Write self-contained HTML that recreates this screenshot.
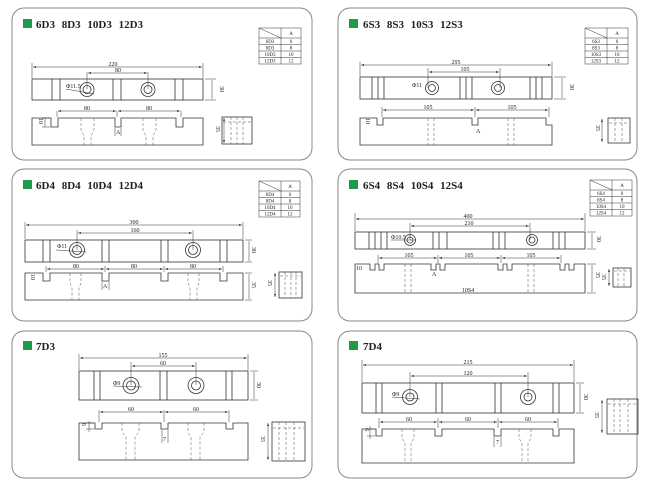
<!DOCTYPE html>
<html><head><meta charset="utf-8"><style>
html,body{margin:0;padding:0;background:#fff}
svg{display:block}
text{font-family:"Liberation Serif",serif;fill:#222}
.t{font-size:11px;font-weight:bold;word-spacing:4px}
.s{font-size:6px}
.tb{font-size:5px}
.p{fill:none;stroke:#888;stroke-width:1}
.l{fill:none;stroke:#333;stroke-width:0.8}
.d{fill:none;stroke:#333;stroke-width:0.5}
.ds{fill:none;stroke:#555;stroke-width:0.5;stroke-dasharray:3 2}
</style></head><body>
<svg width="650" height="490" viewBox="0 0 650 490" xmlns="http://www.w3.org/2000/svg">
<defs>
<marker id="a" markerWidth="6" markerHeight="4" refX="6" refY="2" orient="auto-start-reverse"><path d="M0,0L6,2L0,4z" fill="#333"/></marker>
</defs>

<rect class="p" x="12" y="8" width="300" height="152" rx="12"/>
<rect class="p" x="338" y="8" width="299" height="152" rx="12"/>
<rect class="p" x="12" y="169" width="300" height="152" rx="12"/>
<rect class="p" x="338" y="169" width="299" height="152" rx="12"/>
<rect class="p" x="12" y="331" width="300" height="147" rx="12"/>
<rect class="p" x="338" y="331" width="299" height="147" rx="12"/>

<rect x="23" y="19" width="9" height="9" fill="#1f9a4a"/><text class="t" x="36" y="28">6D3 8D3 10D3 12D3</text>
<rect x="349" y="19" width="9" height="9" fill="#1f9a4a"/><text class="t" x="363" y="28">6S3 8S3 10S3 12S3</text>
<rect x="23" y="180" width="9" height="9" fill="#1f9a4a"/><text class="t" x="36" y="189">6D4 8D4 10D4 12D4</text>
<rect x="349" y="180" width="9" height="9" fill="#1f9a4a"/><text class="t" x="363" y="189">6S4 8S4 10S4 12S4</text>
<rect x="23" y="341" width="9" height="9" fill="#1f9a4a"/><text class="t" x="36" y="350">7D3</text>
<rect x="349" y="341" width="9" height="9" fill="#1f9a4a"/><text class="t" x="363" y="350">7D4</text>

<g class="d">
<rect x="259" y="28" width="42" height="36"/><line x1="281" y1="28" x2="281" y2="64"/><line x1="259" y1="38" x2="301" y2="38"/><line x1="259" y1="44.5" x2="301" y2="44.5"/><line x1="259" y1="51" x2="301" y2="51"/><line x1="259" y1="57.5" x2="301" y2="57.5"/><line x1="259" y1="28" x2="281" y2="38"/>
<rect x="585" y="28" width="43" height="36"/><line x1="607" y1="28" x2="607" y2="64"/><line x1="585" y1="38" x2="628" y2="38"/><line x1="585" y1="44.5" x2="628" y2="44.5"/><line x1="585" y1="51" x2="628" y2="51"/><line x1="585" y1="57.5" x2="628" y2="57.5"/><line x1="585" y1="28" x2="607" y2="38"/>
<rect x="259" y="181" width="41" height="36"/><line x1="281" y1="181" x2="281" y2="217"/><line x1="259" y1="191" x2="300" y2="191"/><line x1="259" y1="197.5" x2="300" y2="197.5"/><line x1="259" y1="204" x2="300" y2="204"/><line x1="259" y1="210.5" x2="300" y2="210.5"/><line x1="259" y1="181" x2="281" y2="191"/>
<rect x="590" y="180" width="42" height="36"/><line x1="612" y1="180" x2="612" y2="216"/><line x1="590" y1="190" x2="632" y2="190"/><line x1="590" y1="196.5" x2="632" y2="196.5"/><line x1="590" y1="203" x2="632" y2="203"/><line x1="590" y1="209.5" x2="632" y2="209.5"/><line x1="590" y1="180" x2="612" y2="190"/>
</g>
<g class="tb" text-anchor="middle">
<text x="291" y="35">A</text><text x="270" y="43">6D3</text><text x="291" y="43">6</text><text x="270" y="49.5">8D3</text><text x="291" y="49.5">8</text><text x="270" y="56">10D3</text><text x="291" y="56">10</text><text x="270" y="62.5">12D3</text><text x="291" y="62.5">12</text>
<text x="617" y="35">A</text><text x="596" y="43">6S3</text><text x="617" y="43">6</text><text x="596" y="49.5">8S3</text><text x="617" y="49.5">8</text><text x="596" y="56">10S3</text><text x="617" y="56">10</text><text x="596" y="62.5">12S3</text><text x="617" y="62.5">12</text>
<text x="290" y="188">A</text><text x="270" y="196">6D4</text><text x="290" y="196">6</text><text x="270" y="202.5">8D4</text><text x="290" y="202.5">8</text><text x="270" y="209">10D4</text><text x="290" y="209">10</text><text x="270" y="215.5">12D4</text><text x="290" y="215.5">12</text>
<text x="622" y="187">A</text><text x="601" y="195">6S4</text><text x="622" y="195">6</text><text x="601" y="201.5">8S4</text><text x="622" y="201.5">8</text><text x="601" y="208">10S4</text><text x="622" y="208">10</text><text x="601" y="214.5">12S4</text><text x="622" y="214.5">12</text>
</g>

<g>
<rect class="l" x="32" y="79" width="171" height="21"/>
<path class="l" d="M52,79V100M60,79V100M113,79V100M121,79V100M175,79V100M183,79V100"/>
<circle class="l" cx="87" cy="89.5" r="7"/><circle class="l" cx="87" cy="89.5" r="4"/>
<circle class="l" cx="148" cy="89.5" r="7"/><circle class="l" cx="148" cy="89.5" r="4"/>
<path class="d" d="M32,63V78M203,63V78M87,72V89M148,72V89M205,79H216M205,100H216M212,80V99"/>
<line class="d" x1="33" y1="67" x2="202" y2="67" marker-start="url(#a)" marker-end="url(#a)"/>
<line class="d" x1="88" y1="73" x2="147" y2="73" marker-start="url(#a)" marker-end="url(#a)"/>
<text class="s" x="113" y="66" text-anchor="middle">220</text><text class="s" x="118" y="72" text-anchor="middle">80</text>
<text class="s" x="66" y="88">Φ11.5</text><line class="d" x1="66" y1="89" x2="94" y2="94"/>
<text class="s" transform="translate(220,86) rotate(90)">30</text>
<path class="l" d="M32,118H51V127H58V118H115V127H121V118H176V127H183V118H203V145H32Z"/>
<path class="ds" d="M81,118V130L84,136V145M94,118V130L91,136V145M143,118V130L146,136V145M156,118V130L153,136V145"/>
<path class="d" d="M57,111V117M117,111V117M181,111V117M115,128V136M121,128V136"/>
<line class="d" x1="58" y1="111" x2="116" y2="111" marker-start="url(#a)" marker-end="url(#a)"/>
<line class="d" x1="118" y1="111" x2="180" y2="111" marker-start="url(#a)" marker-end="url(#a)"/>
<text class="s" x="87" y="110" text-anchor="middle">80</text><text class="s" x="149" y="110" text-anchor="middle">80</text>
<text class="s" x="116" y="134">A</text>
<path class="d" d="M42,118H50M42,127H50M45,118V127"/><text class="s" transform="translate(39,118) rotate(90)">10</text>
<rect class="l" x="222" y="117" width="30" height="27"/>
<path class="ds" d="M223,122H251M231,117V144M237,117V144M243,117V144"/>
<line class="d" x1="224" y1="118" x2="224" y2="143" marker-start="url(#a)" marker-end="url(#a)"/>
<text class="s" transform="translate(216,126) rotate(90)">35</text>
</g>

<g>
<rect class="l" x="360" y="77" width="192" height="22"/>
<path class="l" d="M372,77V99M378,77V99M384,77V99M460,77V99M466,77V99M472,77V99M530,77V99M536,77V99M542,77V99"/>
<circle class="l" cx="432" cy="88" r="6.5"/><circle class="l" cx="432" cy="88" r="3.5"/>
<circle class="l" cx="498" cy="88" r="6.5"/><circle class="l" cx="498" cy="88" r="3.5"/>
<path class="d" d="M360,62V76M552,62V76M428,68V88M500,68V88M554,77H566M554,99H566M562,78V98"/>
<line class="d" x1="361" y1="65" x2="551" y2="65" marker-start="url(#a)" marker-end="url(#a)"/>
<line class="d" x1="429" y1="72" x2="499" y2="72" marker-start="url(#a)" marker-end="url(#a)"/>
<text class="s" x="456" y="64" text-anchor="middle">295</text><text class="s" x="465" y="71" text-anchor="middle">105</text>
<text class="s" x="412" y="87">Φ11</text>
<text class="s" transform="translate(570,84) rotate(90)">30</text>
<path class="l" d="M360,118H377V125H383V118H472V125H478V118H546V125H552V145H360Z"/>
<path class="ds" d="M428,118V145M434,118V145M508,118V145M514,118V145"/>
<path class="d" d="M382,107V117M475,107V117M549,107V117"/>
<line class="d" x1="383" y1="110" x2="474" y2="110" marker-start="url(#a)" marker-end="url(#a)"/>
<line class="d" x1="476" y1="110" x2="548" y2="110" marker-start="url(#a)" marker-end="url(#a)"/>
<text class="s" x="428" y="109" text-anchor="middle">105</text><text class="s" x="512" y="109" text-anchor="middle">105</text>
<text class="s" x="476" y="133">A</text>
<text class="s" transform="translate(366,118) rotate(90)">10</text>
<rect class="l" x="608" y="118" width="22" height="25"/>
<path class="ds" d="M609,123H629M615,118V143M622,118V143"/>
<line class="d" x1="602" y1="119" x2="602" y2="142" marker-start="url(#a)" marker-end="url(#a)"/>
<text class="s" transform="translate(596,125) rotate(90)">35</text>
</g>

<g>
<rect class="l" x="25" y="240" width="218" height="22"/>
<path class="l" d="M43,240V262M50,240V262M102,240V262M109,240V262M161,240V262M168,240V262M220,240V262M227,240V262"/>
<circle class="l" cx="77" cy="250" r="7.5"/><circle class="l" cx="77" cy="250" r="4.5"/>
<circle class="l" cx="193" cy="250" r="7.5"/><circle class="l" cx="193" cy="250" r="4.5"/>
<path class="d" d="M25,222V239M243,222V239M77,230V250M193,230V250M245,240H252M245,262H252M249,241V261"/>
<line class="d" x1="26" y1="225" x2="242" y2="225" marker-start="url(#a)" marker-end="url(#a)"/>
<line class="d" x1="78" y1="233" x2="192" y2="233" marker-start="url(#a)" marker-end="url(#a)"/>
<text class="s" x="134" y="224" text-anchor="middle">300</text><text class="s" x="135" y="232" text-anchor="middle">160</text>
<text class="s" x="57" y="248">Φ11</text><line class="d" x1="56" y1="250" x2="86" y2="252"/>
<text class="s" transform="translate(252,247) rotate(90)">30</text>
<path class="l" d="M25,273H43V281H50V273H102V281H109V273H161V281H168V273H220V281H227V273H243V300H25Z"/>
<path class="ds" d="M70,273V283L72,288V300M81,273V283L79,288V300M188,273V283L190,288V300M199,273V283L197,288V300"/>
<path class="d" d="M46,266V272M105,266V272M164,266V272M223,266V272M102,282V290M109,282V290"/>
<line class="d" x1="47" y1="269" x2="104" y2="269" marker-start="url(#a)" marker-end="url(#a)"/>
<line class="d" x1="106" y1="269" x2="163" y2="269" marker-start="url(#a)" marker-end="url(#a)"/>
<line class="d" x1="165" y1="269" x2="222" y2="269" marker-start="url(#a)" marker-end="url(#a)"/>
<text class="s" x="76" y="268" text-anchor="middle">80</text><text class="s" x="134" y="268" text-anchor="middle">80</text><text class="s" x="193" y="268" text-anchor="middle">80</text>
<text class="s" x="103" y="288">A</text>
<text class="s" transform="translate(31,274) rotate(90)">10</text>
<path class="d" d="M245,273H252M245,300H252M249,274V299"/><text class="s" transform="translate(252,282) rotate(90)">35</text>
<rect class="l" x="279" y="272" width="23" height="26"/>
<path class="ds" d="M280,276H301M285,272V298M291,272V298M296,272V298"/>
<line class="d" x1="275" y1="273" x2="275" y2="297" marker-start="url(#a)" marker-end="url(#a)"/>
<text class="s" transform="translate(268,280) rotate(90)">35</text>
</g>

<g>
<rect class="l" x="355" y="232" width="230" height="17"/>
<path class="l" d="M369,232V249M375,232V249M381,232V249M387,232V249M433,232V249M439,232V249M447,232V249M493,232V249M499,232V249M505,232V249M553,232V249M559,232V249M565,232V249"/>
<circle class="l" cx="410" cy="240" r="5.5"/><circle class="l" cx="410" cy="240" r="3"/>
<circle class="l" cx="532" cy="240" r="5.5"/><circle class="l" cx="532" cy="240" r="3"/>
<path class="d" d="M355,213V231M585,213V231M410,223V240M530,223V240M587,232H596M587,249H596M592,233V248"/>
<line class="d" x1="356" y1="219" x2="584" y2="219" marker-start="url(#a)" marker-end="url(#a)"/>
<line class="d" x1="411" y1="226" x2="529" y2="226" marker-start="url(#a)" marker-end="url(#a)"/>
<text class="s" x="468" y="218" text-anchor="middle">400</text><text class="s" x="469" y="225" text-anchor="middle">210</text>
<text class="s" x="391" y="239">Φ10.5</text><line class="d" x1="391" y1="240" x2="416" y2="240"/>
<text class="s" transform="translate(597,236) rotate(90)">30</text>
<path class="l" d="M355,264H370V270H375V264H379V270H384V264H431V270H436V264H440V270H445V264H498V270H503V264H507V270H512V264H560V270H565V264H569V270H574V264H585V293H355Z"/>
<path class="ds" d="M405,264V293M411,264V293M528,264V293M534,264V293"/>
<path class="d" d="M378,255V263M438,255V263M501,255V263M561,255V263"/>
<line class="d" x1="379" y1="258" x2="437" y2="258" marker-start="url(#a)" marker-end="url(#a)"/>
<line class="d" x1="439" y1="258" x2="500" y2="258" marker-start="url(#a)" marker-end="url(#a)"/>
<line class="d" x1="502" y1="258" x2="560" y2="258" marker-start="url(#a)" marker-end="url(#a)"/>
<text class="s" x="409" y="257" text-anchor="middle">105</text><text class="s" x="469" y="257" text-anchor="middle">105</text><text class="s" x="531" y="257" text-anchor="middle">105</text>
<text class="s" x="432" y="276">A</text>
<text class="s" x="356" y="270">10</text>
<text class="s" x="468" y="292" text-anchor="middle">10S4</text>
<path class="d" d="M587,264H596M587,293H596M592,265V292"/><text class="s" transform="translate(596,272) rotate(90)">35</text>
<rect class="l" x="613" y="268" width="18" height="19"/>
<path class="ds" d="M614,271H630M618,268V287M624,268V287"/>
<line class="d" x1="609" y1="269" x2="609" y2="286" marker-start="url(#a)" marker-end="url(#a)"/>
<text class="s" transform="translate(602,274) rotate(90)">35</text>
</g>

<g>
<rect class="l" x="79" y="371" width="169" height="29"/>
<path class="l" d="M94,371V400M100,371V400M160,371V400M167,371V400M226,371V400M232,371V400"/>
<circle class="l" cx="131" cy="385.5" r="8"/><circle class="l" cx="131" cy="385.5" r="4.5"/>
<circle class="l" cx="196" cy="385.5" r="8"/><circle class="l" cx="196" cy="385.5" r="4.5"/>
<path class="d" d="M79,354V370M248,354V370M131,362V385M196,362V385M250,371H258M250,400H258M254,372V399"/>
<line class="d" x1="80" y1="358" x2="247" y2="358" marker-start="url(#a)" marker-end="url(#a)"/>
<line class="d" x1="132" y1="366" x2="195" y2="366" marker-start="url(#a)" marker-end="url(#a)"/>
<text class="s" x="163" y="357" text-anchor="middle">155</text><text class="s" x="163" y="365" text-anchor="middle">60</text>
<text class="s" x="113" y="385">Φ9</text><line class="d" x1="113" y1="386" x2="142" y2="387"/>
<text class="s" transform="translate(257,382) rotate(90)">30</text>
<path class="l" d="M79,423H95V429H102V423H161V429H168V423H226V429H233V423H248V460H79Z"/>
<path class="ds" d="M122,423V432L126,437V460M139,423V432L135,437V460M188,423V432L191,437V460M204,423V432L200,437V460"/>
<path class="d" d="M99,410V422M164,410V422M229,410V422M162,430V443M168,430V443"/>
<line class="d" x1="100" y1="412" x2="163" y2="412" marker-start="url(#a)" marker-end="url(#a)"/>
<line class="d" x1="165" y1="412" x2="228" y2="412" marker-start="url(#a)" marker-end="url(#a)"/>
<text class="s" x="131" y="411" text-anchor="middle">60</text><text class="s" x="196" y="411" text-anchor="middle">60</text>
<text class="s" x="163" y="441">7</text>
<path class="d" d="M86,423H94M86,429H94M89,421V432"/><text class="s" transform="translate(82,423) rotate(90)">6</text>
<rect class="l" x="272" y="422" width="33" height="39"/>
<path class="ds" d="M273,428H304M279,422V461M286,422V461M294,422V461"/>
<line class="d" x1="268" y1="423" x2="268" y2="460" marker-start="url(#a)" marker-end="url(#a)"/>
<text class="s" transform="translate(261,436) rotate(90)">35</text>
</g>

<g>
<rect class="l" x="362" y="383" width="212" height="30"/>
<path class="l" d="M376,383V413M382,383V413M436,383V413M442,383V413M495,383V413M501,383V413M553,383V413M559,383V413"/>
<circle class="l" cx="410" cy="397" r="7.5"/><circle class="l" cx="410" cy="397" r="4"/>
<circle class="l" cx="528" cy="397" r="7.5"/><circle class="l" cx="528" cy="397" r="4"/>
<path class="d" d="M362,360V382M574,360V382M410,372V397M528,372V397M576,383H584M576,413H584M580,384V412"/>
<line class="d" x1="363" y1="365" x2="573" y2="365" marker-start="url(#a)" marker-end="url(#a)"/>
<line class="d" x1="411" y1="376" x2="527" y2="376" marker-start="url(#a)" marker-end="url(#a)"/>
<text class="s" x="468" y="364" text-anchor="middle">215</text><text class="s" x="468" y="375" text-anchor="middle">120</text>
<text class="s" x="392" y="396">Φ9</text><line class="d" x1="392" y1="397" x2="420" y2="399"/>
<text class="s" transform="translate(584,394) rotate(90)">30</text>
<path class="l" d="M362,429H376V436H382V429H435V436H442V429H494V436H501V429H553V436H559V429H574V463H362Z"/>
<path class="ds" d="M402,429V438L405,443V463M414,429V438L411,443V463M519,429V438L522,443V463M531,429V438L528,443V463"/>
<path class="d" d="M379,418V428M438,418V428M498,418V428M558,418V428M494,437V447M501,437V447"/>
<line class="d" x1="380" y1="422" x2="437" y2="422" marker-start="url(#a)" marker-end="url(#a)"/>
<line class="d" x1="439" y1="422" x2="497" y2="422" marker-start="url(#a)" marker-end="url(#a)"/>
<line class="d" x1="499" y1="422" x2="557" y2="422" marker-start="url(#a)" marker-end="url(#a)"/>
<text class="s" x="409" y="421" text-anchor="middle">60</text><text class="s" x="468" y="421" text-anchor="middle">60</text><text class="s" x="528" y="421" text-anchor="middle">60</text>
<text class="s" x="496" y="444">7</text>
<path class="d" d="M367,429H375M367,436H375M370,426V439"/><text class="s" transform="translate(365,428) rotate(90)">6</text>
<rect class="l" x="607" y="399" width="31" height="35"/>
<path class="ds" d="M608,404H637M614,399V434M620,399V434M628,399V434"/>
<line class="d" x1="602" y1="400" x2="602" y2="433" marker-start="url(#a)" marker-end="url(#a)"/>
<text class="s" transform="translate(595,412) rotate(90)">35</text>
</g>
</svg>
</body></html>
